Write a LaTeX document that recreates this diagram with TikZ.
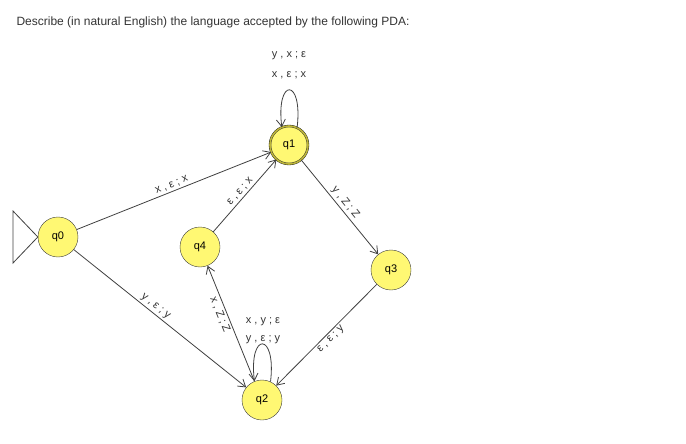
\documentclass[tikz,border=0pt]{standalone}
\usepackage{fontspec}
\setmainfont{Liberation Sans}
\usetikzlibrary{arrows.meta}
\begin{document}
\begin{tikzpicture}[x=1pt,y=-1pt,
  st/.style={circle,draw=black!75,fill=yellow!55,minimum size=40pt,inner sep=0pt,font=\fontsize{11}{12}\selectfont},
  tr/.style={draw=black!75,line width=0.8pt,-{Straight Barb[length=7pt,width=9pt]}},
  lb/.style={font=\fontsize{11}{12}\selectfont,text=black!80,inner sep=2pt}]
\useasboundingbox (0,0) rectangle (686,444);
\node[anchor=west,font=\fontsize{12}{14}\selectfont,text=black!80] (t) at (13,22) {Describe (in natural English) the language accepted by the following PDA:};
\node[st] (q0) at (58,237) {q0};
\node[st,draw=black!85,double=yellow!70!black,double distance=1.6pt,minimum size=38pt] (q1) at (289,145) {q1};
\node[st] (q4) at (200,247) {q4};
\node[st] (q3) at (391,270) {q3};
\node[st] (q2) at (262,400) {q2};
\coordinate (ia) at (13,211); \coordinate (ib) at (13,263);
\draw[black!75,line width=0.8pt] (ia) -- (q0.west) -- (ib) -- cycle;
\draw[tr] (q0) -- node[lb,sloped,above]{x , ε ; x} (q1);
\draw[tr] (q4) -- node[lb,sloped,above]{ε , ε ; x} (q1);
\draw[tr] (q1) -- node[lb,sloped,above]{y , Z ; Z} (q3);
\draw[tr] (q0) -- node[lb,sloped,above,pos=0.45]{y , ε ; y} (q2);
\draw[tr] (q2) -- node[lb,sloped,below,pos=0.6]{x , Z ; Z} (q4);
\draw[tr] (q3) -- node[lb,sloped,below]{ε , ε ; y} (q2);
\draw[tr] (q1.65) .. controls +(6,-50) and +(-6,-50) .. (q1.112);
\draw[tr] (q2.65) .. controls +(6,-50) and +(-6,-50) .. (q2.112);
\node[lb] (l1a) at (289,56) {y , x ; ε};
\node[lb] (l1b) at (289,75) {x , ε ; x};
\node[lb] (l2a) at (263,322) {x , y ; ε};
\node[lb] (l2b) at (263,340) {y , ε ; y};
\end{tikzpicture}
\end{document}
